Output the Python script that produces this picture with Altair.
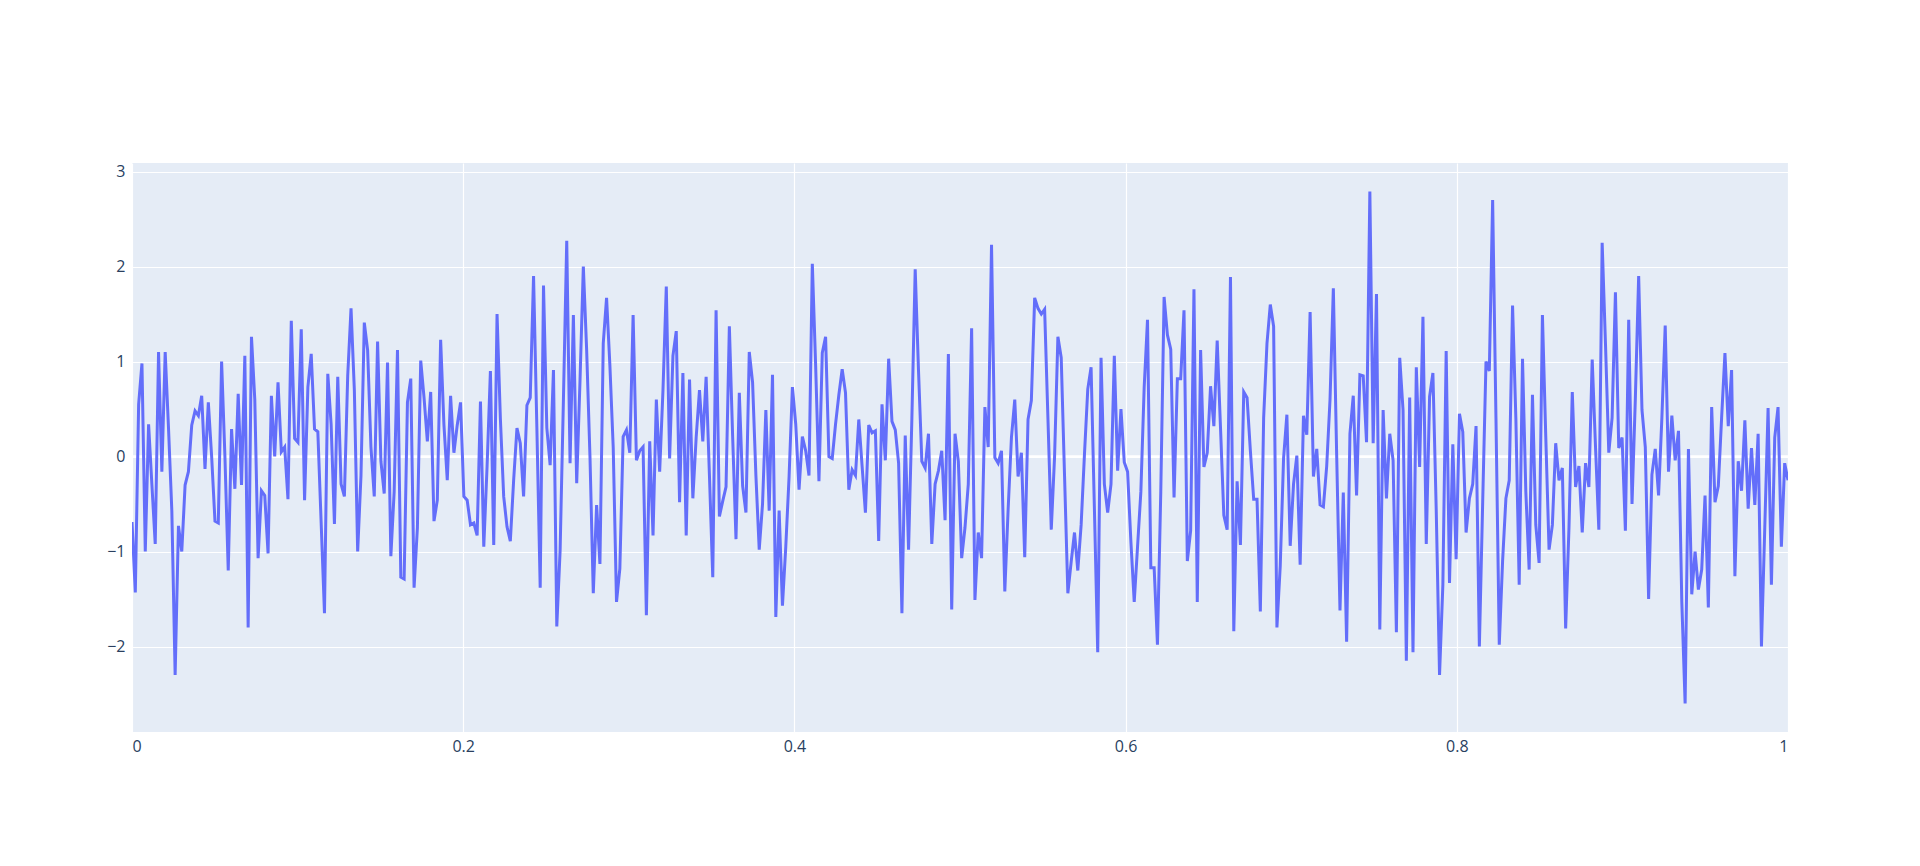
import altair as alt
import pandas as pd

# Values, in order (500 points, x from 0 to 1)
y_part01 = [-0.69, -1.43, 0.55, 0.98, -1.0, 0.34, -0.3, -0.92, 1.1, -0.16,
            1.1, 0.3, -0.57, -2.3, -0.73, -1.0, -0.3, -0.16, 0.33, 0.48,
            0.43, 0.64, -0.13, 0.57, 0.0, -0.68, -0.7]
y_part02 = [1.0, 0.0, -1.2, 0.29, -0.34, 0.66, -0.3, 1.06, -1.8, 1.26,
            0.6, -1.07, -0.36, -0.41, -1.02, 0.64, 0.0, 0.78, 0.05, 0.1,
            -0.45, 1.43, 0.19, 0.15, 1.34, -0.46, 0.73, 1.08, 0.29, 0.26,
            -0.7, -1.65, 0.87, 0.34, -0.71]
y_part03 = [0.84, -0.29, -0.42, 0.85, 1.56, 0.7, -1.0, -0.2, 1.41, 1.12,
            0.1, -0.42, 1.21, -0.05, -0.39, 0.99, -1.05, -0.37, 1.12, -1.27,
            -1.29, 0.57, 0.82, -1.38, -0.75, 1.01, 0.62, 0.16, 0.68, -0.68,
            -0.46, 1.23, 0.33, -0.25, 0.64, 0.04, 0.33, 0.57, -0.42, -0.46,
            -0.72, -0.7, -0.83, 0.58]
y_part04 = [-0.95, -0.1, 0.9, -0.93, 1.5, 0.4, -0.42, -0.74, -0.89, -0.25,
            0.3, 0.14, -0.42, 0.54, 0.62, 1.9, 0.3, -1.38, 1.8, 0.3,
            -0.09, 0.91, -1.79, -0.99, 0.6, 2.27, -0.07, 1.49, -0.28, 0.8,
            2.0, 1.12, 0.0, -1.44, -0.51, -1.13, 1.19, 1.67, 0.96, 0.1,
            -1.53, -1.18, 0.21, 0.28]
y_part05 = [0.04, 1.49, -0.04, 0.06, 0.1, -1.67, 0.16, -0.83, 0.6, -0.16,
            0.7, 1.79, -0.02, 1.06, 1.32, -0.48, 0.88, -0.83, 0.81, -0.44,
            0.2, 0.7, 0.16, 0.84, -0.2, -1.27, 1.54, -0.63, -0.47, -0.32,
            1.37, 0.2, -0.87, 0.67, -0.31, -0.59, 1.1, 0.78, -0.2, -0.98,
            -0.5, 0.49, -0.57, 0.86]
y_part06 = [-1.69, -0.57, -1.57, -0.95, -0.21, 0.73, 0.34, -0.35, 0.21, 0.06,
            -0.2, 2.03, 0.96, -0.26, 1.09, 1.26, 0.0, -0.02, 0.34, 0.65,
            0.92, 0.67, -0.35, -0.14, -0.2, 0.39, -0.1, -0.59, 0.33, 0.25,
            0.27, -0.89, 0.55, -0.04, 1.03, 0.37, 0.28, -0.07, -1.65, 0.22,
            -0.98, 0.4, 1.97]
y_part07 = [0.9, -0.05, -0.12, 0.24, -0.92, -0.29, -0.15, 0.06, -0.67, 1.08,
            -1.61, 0.24, -0.05, -1.07, -0.75, -0.29, 1.35, -1.51, -0.8, -1.07,
            0.52, 0.1, 2.23, -0.01, -0.07, 0.06, -1.42, -0.56, 0.2, 0.6,
            -0.21, 0.04, -1.06, 0.39, 0.59, 1.67, 1.56, 1.5, 1.55, 0.4,
            -0.77, 0.0, 1.26, 1.04, -0.2]
y_part08 = [-1.44, -1.11, -0.8, -1.2, -0.72, 0.02, 0.71, 0.94, -0.55, -2.06,
            1.04, -0.29, -0.59, -0.29, 1.06, -0.15, 0.5, -0.06, -0.16, -0.9,
            -1.53, -0.95, -0.37, 0.73, 1.44, -1.17, -1.17, -1.98, -0.37, 1.68,
            1.28, 1.13, -0.43, 0.82, 0.82, 1.54, -1.1, -0.78, 1.76, -1.53,
            1.12, -0.11, 0.04, 0.74]
y_part09 = [0.32, 1.22, 0.3, -0.62, -0.77, 1.89, -1.84, -0.26, -0.93, 0.68,
            0.62, 0.06, -0.45, -0.45, -1.63, 0.41, 1.19, 1.6, 1.37, -1.8,
            -1.15, -0.02, 0.44, -0.94, -0.29, 0.01, -1.14, 0.43, 0.23, 1.52,
            -0.21, 0.08, -0.51, -0.53, -0.1, 0.6, 1.77, 0.02, -1.62, -0.38,
            -1.95, 0.24, 0.64, -0.41]
y_part10 = [0.86, 0.85, 0.15, 2.79, 0.14, 1.71, -1.82, 0.49, -0.44, 0.24,
            -0.04, -1.85, 1.04, 0.49, -2.15, 0.62, -2.06, 0.94, -0.11, 1.47,
            -0.92, 0.63, 0.88, -0.56, -2.3, -1.35, 1.11, -1.33, 0.13, -1.08,
            0.45, 0.26, -0.8, -0.44, -0.29, 0.32, -2.0, -0.48, 1.0, 0.9,
            2.7, 0.41, -1.98, -1.1]
y_part11 = [-0.44, -0.25, 1.59, 0.4, -1.35, 1.03, -0.37, -1.19, 0.65, -0.72,
            -1.12, 1.49, 0.22, -0.98, -0.72, 0.14, -0.25, -0.12, -1.81, -0.75,
            0.68, -0.32, -0.1, -0.8, -0.07, -0.32, 1.02, 0.1, -0.77, 2.25,
            1.19, 0.04, 0.41, 1.73, 0.09, 0.2, -0.78, 1.44, -0.5, 0.61,
            1.9, 0.49, 0.1, -1.5]
y_part12 = [-0.19, 0.08, -0.41, 0.41, 1.38, -0.16, 0.43, -0.04, 0.27, -1.53,
            -2.6, 0.08, -1.45, -1.0, -1.4, -1.19, -0.41, -1.59, 0.52, -0.48,
            -0.31, 0.41, 1.09, 0.32, 0.91, -1.26, -0.05, -0.36, 0.38, -0.55,
            0.09, -0.51, 0.24, -2.0, -0.75, 0.51, -1.35, 0.2, 0.52, -0.95,
            -0.07, -0.25]

y_values = (y_part01 + y_part02 + y_part03 + y_part04 + y_part05 + y_part06
            + y_part07 + y_part08 + y_part09 + y_part10 + y_part11 + y_part12)
n = len(y_values)
x_values = [i / (n - 1) for i in range(n)]

x_ticks = [0, 0.2, 0.4, 0.6, 0.8, 1]
y_ticks = [-2, -1, 0, 1, 2, 3]

df = pd.DataFrame({"x": x_values, "y": y_values})
zero_df = pd.DataFrame({"y": [0]})

LABEL = dict(labelColor="#2a3f5f", labelFont="Open Sans", labelFontSize=16,
             domain=False, ticks=False, gridColor="white", gridWidth=1.2,
             title="", format="~g")

x_scale = alt.Scale(domain=[0, 1], nice=False, zero=False)
y_scale = alt.Scale(domain=[-2.9, 3.09], nice=False, zero=False)

zero_line = alt.Chart(zero_df).mark_rule(color="white", strokeWidth=2.4).encode(
    y=alt.Y("y:Q", scale=y_scale, axis=alt.Axis(values=y_ticks, labelPadding=7, **LABEL))
)

line = alt.Chart(df).mark_line(color="#636EFA", strokeWidth=3, clip=True).encode(
    x=alt.X("x:Q", scale=x_scale, axis=alt.Axis(values=x_ticks, labelPadding=6, **LABEL)),
    y=alt.Y("y:Q", scale=y_scale, axis=alt.Axis(values=y_ticks, labelPadding=7, **LABEL)),
)

chart = alt.layer(zero_line, line).properties(
    width=1656,
    height=569,
    padding={"left": 124, "top": 155, "right": 124, "bottom": 126},
    autosize=alt.AutoSizeParams(type="none"),
    background="white",
).configure_view(fill="#E5ECF6", strokeWidth=0)

chart.save("out.html", embed_options={"renderer": "svg", "actions": False})
